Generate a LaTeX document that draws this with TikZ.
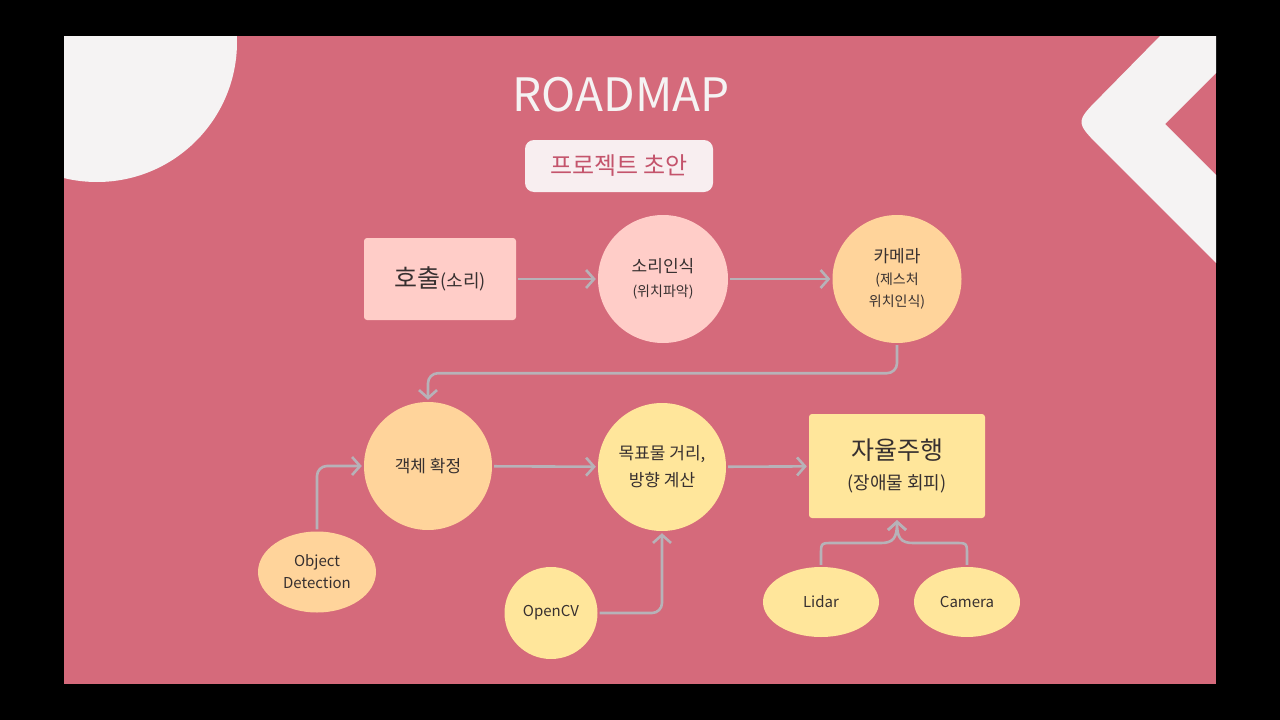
\documentclass[tikz,border=0pt]{standalone}
\usepackage{fontspec}
\setmainfont{Noto Sans CJK KR}
\usetikzlibrary{arrows.meta,shapes.geometric}
\definecolor{bgpink}{RGB}{213,106,123}
\definecolor{offwhite}{RGB}{245,243,243}
\definecolor{lpink}{RGB}{255,205,200}
\definecolor{peach}{RGB}{255,212,155}
\definecolor{lyellow}{RGB}{255,230,155}
\definecolor{conngray}{RGB}{183,178,184}
\definecolor{pillfill}{RGB}{248,238,240}
\definecolor{pilltext}{RGB}{196,84,108}
\definecolor{darktext}{RGB}{55,48,48}
\newcommand{\fs}[2]{\fontsize{#1}{#2}\selectfont}
\tikzset{
  boxnode/.style={rectangle, rounded corners=3, inner sep=0, align=center, text=darktext},
  ellnode/.style={ellipse, inner sep=0, align=center, text=darktext},
  conn/.style={draw=conngray, line width=2.6, -{Straight Barb[length=8,width=18,line width=2.6]}, shorten >=2, shorten <=2}
}
\begin{document}
\begin{tikzpicture}[x=1pt,y=-1pt]
\useasboundingbox (0,0) rectangle (1280,720);
\fill[black] (0,0) rectangle (1280,720);
\fill[bgpink] (64,36) rectangle (1216,684);
\begin{scope}
\clip (64,36) rectangle (1216,684);
\fill[offwhite] (97,42) circle[radius=140];
\fill[offwhite] (1160,36) -- (1101,96) .. controls (1075,122) .. (1101,148) -- (1216,263) -- (1216,175) -- (1165,124) -- (1216,73) -- (1216,36) -- cycle;
\end{scope}

% title
\node[text=offwhite, font=\fs{46}{50}] (title) at (621,95) {ROADMAP};
\node[rectangle, rounded corners=9, fill=pillfill, minimum width=188, minimum height=52, inner sep=0, text=pilltext, font=\fs{24}{28}] (pill) at (619,166) {프로젝트 초안};

% nodes
\node[boxnode, fill=lpink, minimum width=152, minimum height=82] (call) at (440,279) {{\fs{25}{30}호출}{\fs{18}{30}(소리)}};
\node[ellnode, fill=lpink, minimum width=130, minimum height=128, font=\fs{17}{24}] (sound) at (663,279) {소리인식\\{\fs{14}{24}(위치파악)}};
\node[ellnode, fill=peach, minimum width=129, minimum height=128, font=\fs{14}{22}] (cam) at (897,279) {{\fs{17}{22}카메라}\\(제스처\\위치인식)};
\node[ellnode, fill=peach, minimum width=128, minimum height=128, font=\fs{17}{22}] (obj) at (428,466) {객체 확정};
\node[ellnode, fill=lyellow, minimum width=128, minimum height=128, font=\fs{17}{27}] (tgt) at (662,467) {목표물 거리,\\방향 계산};
\node[boxnode, fill=lyellow, minimum width=176, minimum height=104, font=\fs{18}{30}] (auto) at (897,466) {{\fs{25}{32}자율주행}\\(장애물 회피)};
\node[ellnode, fill=peach, minimum width=118, minimum height=81, font=\fs{15}{22}] (od) at (317,572) {Object\\Detection};
\node[ellnode, fill=lyellow, minimum width=93, minimum height=92, font=\fs{15}{20}] (ocv) at (551,613) {OpenCV};
\node[ellnode, fill=lyellow, minimum width=116, minimum height=70, font=\fs{15}{20}] (lid) at (821,602) {Lidar};
\node[ellnode, fill=lyellow, minimum width=106, minimum height=70, font=\fs{15}{20}] (cm) at (967,602) {Camera};

% connectors
\draw[conn] (call) -- (sound);
\draw[conn] (sound) -- (cam);
\draw[conn, rounded corners=10] (cam.south) -- ++(0,30) -| (obj.north);
\draw[conn] (obj) -- (tgt);
\draw[conn] (tgt) -- (auto);
\draw[conn, rounded corners=10] (od.north) |- (obj.west);
\draw[conn, rounded corners=10] (ocv.east) -| (tgt.south);
\draw[conn] (lid.north) -- (821,555) .. controls (821,543) .. (833,543) -- (881,543) .. controls (893,543) and (897,538) .. (auto.south);
\draw[conn] (cm.north) -- (967,555) .. controls (967,543) .. (955,543) -- (913,543) .. controls (901,543) and (897,538) .. (auto.south);
\end{tikzpicture}
\end{document}
